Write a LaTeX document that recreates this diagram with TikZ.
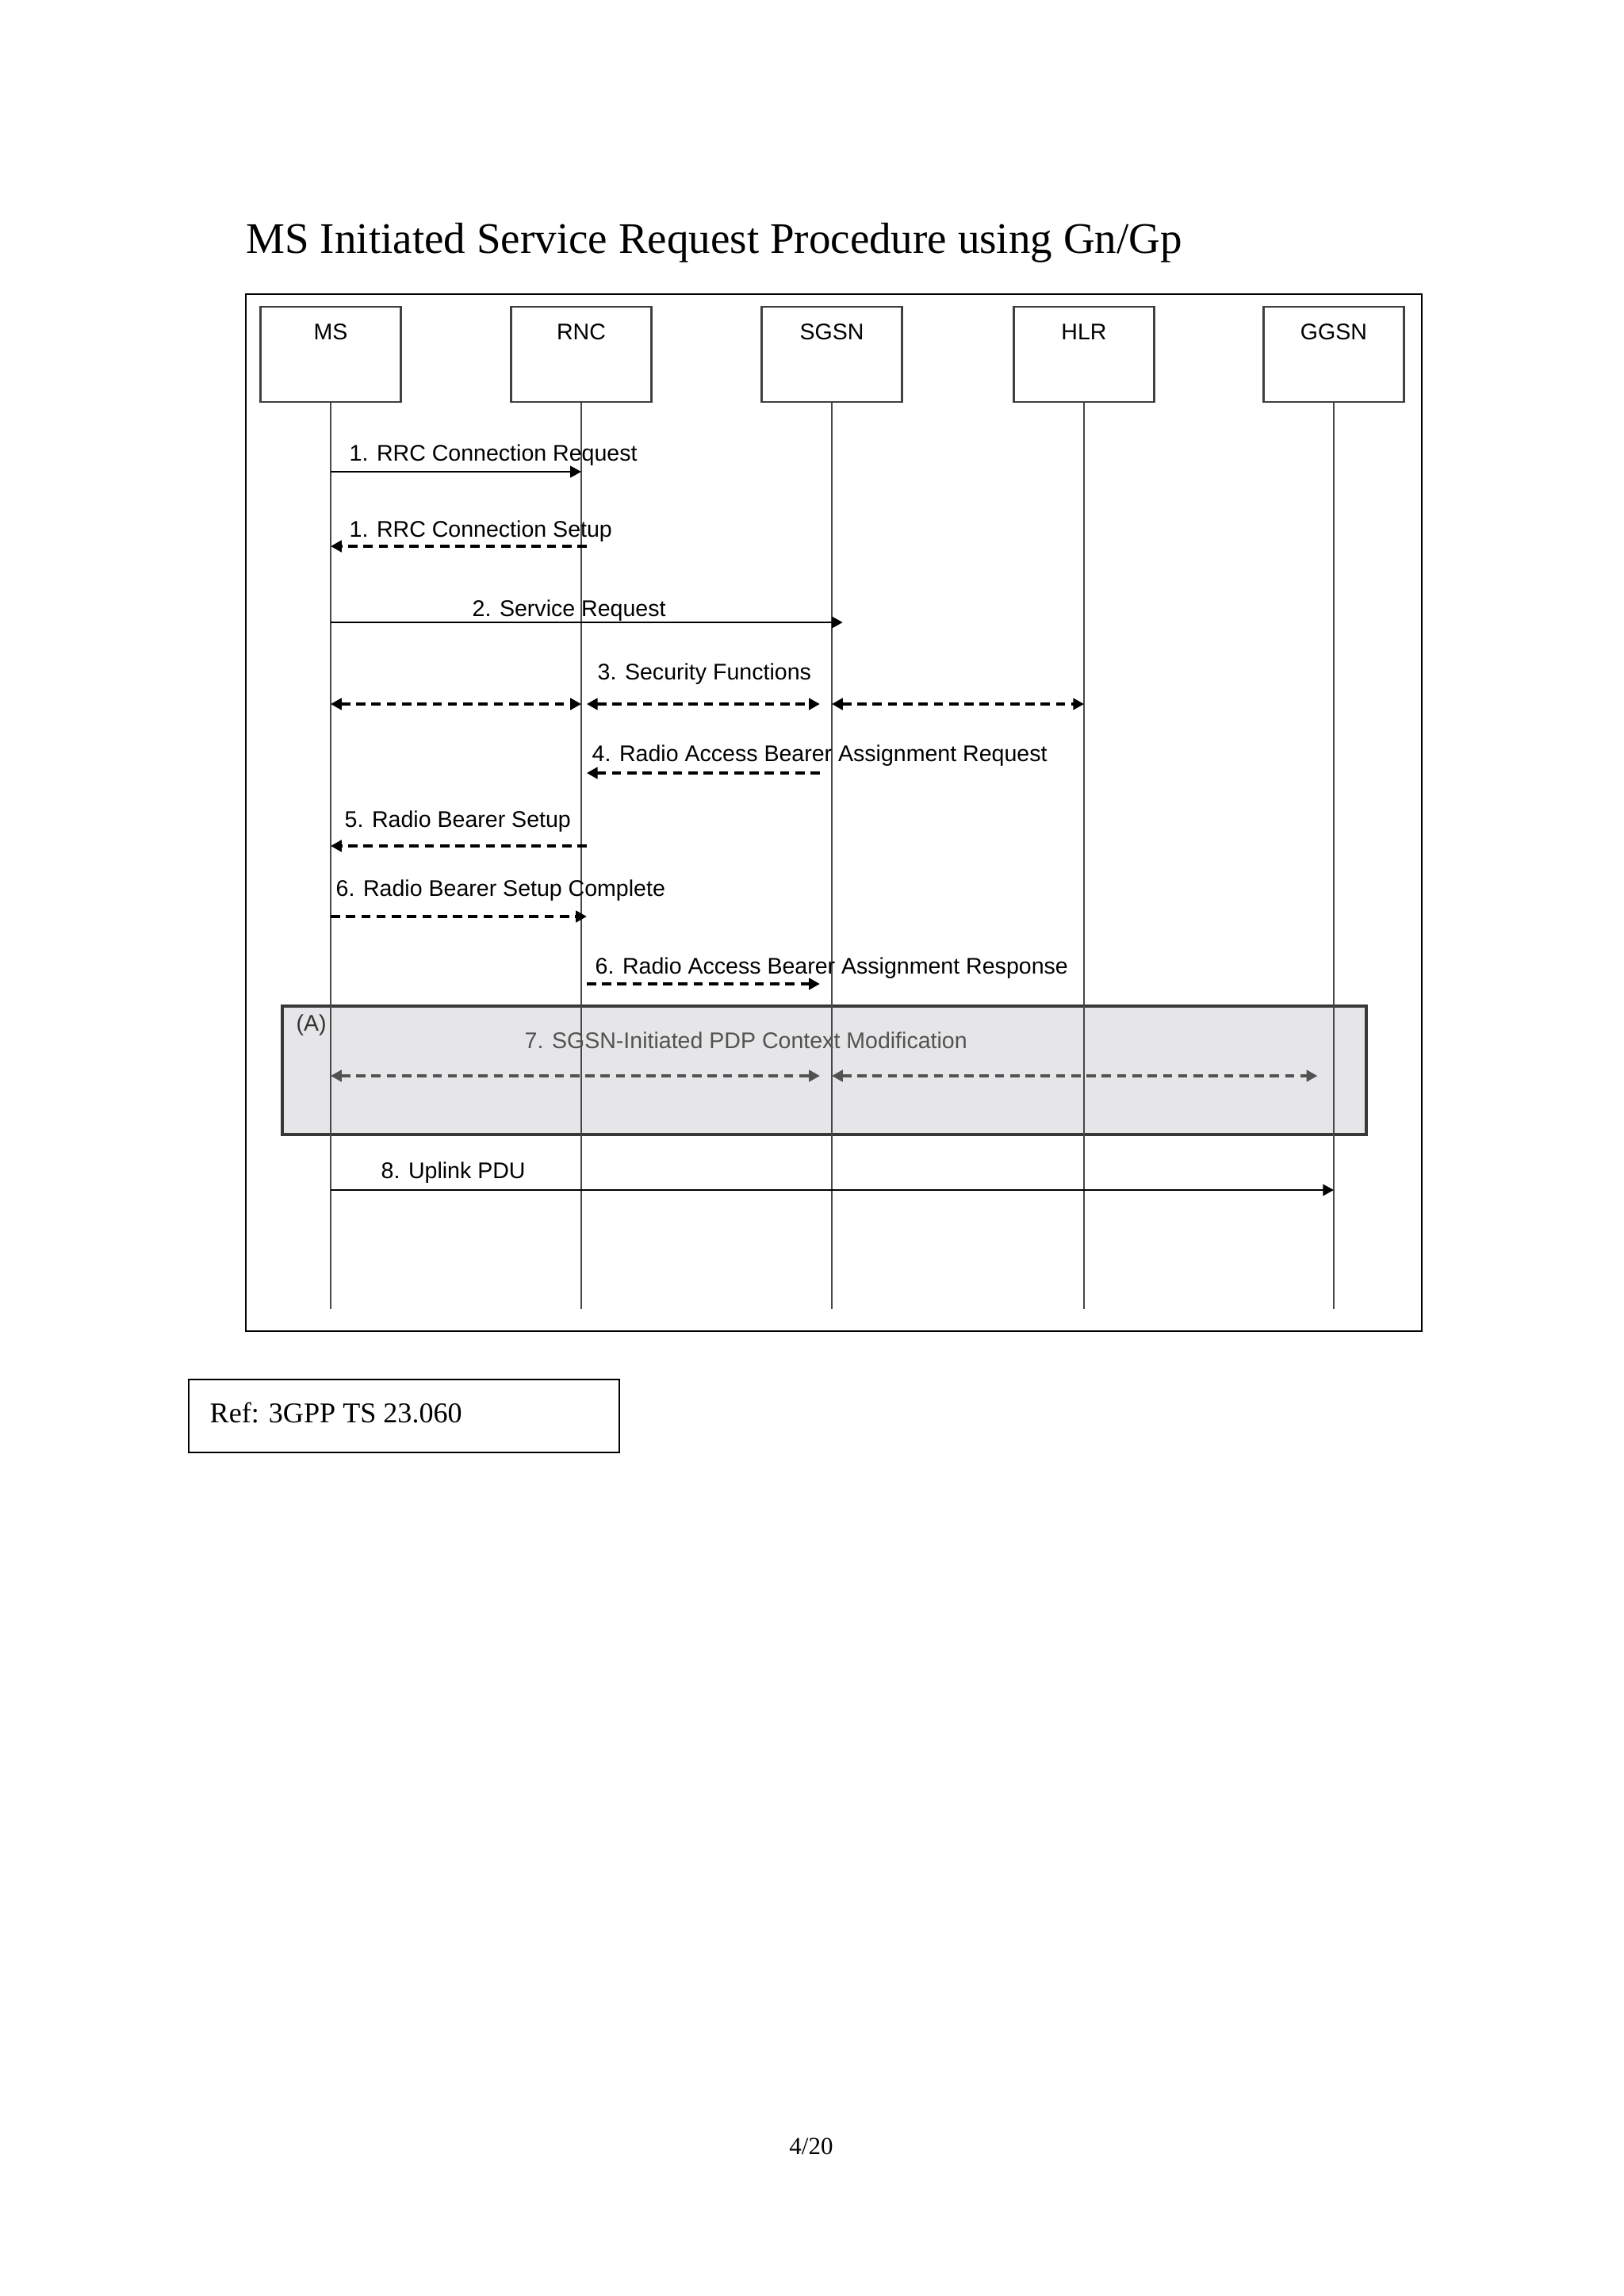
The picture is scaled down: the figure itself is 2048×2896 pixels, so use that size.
\documentclass[tikz,border=0pt]{standalone}
\usepackage{fontspec}
\setmainfont{Liberation Serif}
\newfontfamily\diafont{Liberation Sans}
\usetikzlibrary{arrows.meta}
\definecolor{boxgrey}{RGB}{230,230,232}

\begin{document}
\begin{tikzpicture}
    [x=0.2907pt, y=-0.2907pt,
     every node/.style={font=\diafont\fontsize{8.3}{10}\selectfont, inner sep=0pt},
     actor/.style={draw=black!75, line width=0.65pt, anchor=north, minimum width=51.5pt,
                   minimum height=34.9pt, inner ysep=5.5pt, text height=6.5pt, text depth=17.4pt},
     life/.style={draw=black!72, line width=0.55pt},
     msg/.style={line width=0.7pt, -{Triangle[length=4pt, width=4.2pt]}},
     reply/.style={msg, dash pattern=on 3.4pt off 2.2pt, line width=0.95pt},
     both/.style={reply, {Triangle[length=4pt, width=4.2pt]}-{Triangle[length=4pt, width=4.2pt]}},
     tag/.style={anchor=base west}]
    \useasboundingbox (0,0) rectangle (2048,2896);
    \node[anchor=base west, font=\fontsize{16}{19}\selectfont] (title) at (310,319)
        {MS Initiated Service Request Procedure using Gn/Gp};
    \draw[line width=0.7pt] (310,371) rectangle (1793,1679);
    \node[actor] (ms) at (417,386) {MS};
    \node[actor] (rnc) at (733,386) {RNC};
    \node[actor] (sgsn) at (1049,386) {SGSN};
    \node[actor] (hlr) at (1367,386) {HLR};
    \node[actor] (ggsn) at (1682,386) {GGSN};
    \coordinate (bot) at (0,1651);
    \foreach \m/\y in {m1/595, m2/689, m3/785, m4/888, m5/975, m6/1067, m7/1156, m8/1241, m9/1357, m10/1501}
        \coordinate (\m) at (0,\y);
    \draw[fill=boxgrey, draw=black!78, line width=0.9pt] (356,1269) rectangle (1723,1431);
    \foreach \p in {ms, rnc, sgsn, hlr, ggsn}
        \draw[life] (\p.south) -- (\p |- bot);
    \draw[msg] (ms |- m1) -- (rnc |- m1);
    \node[tag] at (440,581) {1. RRC Connection Request};
    \draw[reply, shorten <=-2pt] (rnc |- m2) -- (ms |- m2);
    \node[tag] at (440,677) {1. RRC Connection Setup};
    \draw[msg, shorten >=-4pt] (ms |- m3) -- (sgsn |- m3);
    \node[tag] at (595,777) {2. Service Request};
    \draw[both] (ms |- m4) -- (rnc |- m4);
    \draw[both, shorten <=2pt, shorten >=4.4pt] (rnc |- m4) -- (sgsn |- m4);
    \draw[both] (sgsn |- m4) -- (hlr |- m4);
    \node[tag] at (753,857) {3. Security Functions};
    \draw[reply, shorten <=4.4pt, shorten >=2pt] (sgsn |- m5) -- (rnc |- m5);
    \node[tag] at (746,960) {4. Radio Access Bearer Assignment Request};
    \draw[reply, shorten <=-2pt] (rnc |- m6) -- (ms |- m6);
    \node[tag] at (434,1043) {5. Radio Bearer Setup};
    \draw[reply, shorten >=-2pt] (ms |- m7) -- (rnc |- m7);
    \node[tag] at (423,1130) {6. Radio Bearer Setup Complete};
    \draw[reply, shorten <=2pt, shorten >=4.4pt] (rnc |- m8) -- (sgsn |- m8);
    \node[tag] at (750,1228) {6. Radio Access Bearer Assignment Response};
    \node[tag, text=black!80] at (373,1300) {(A)};
    \node[tag, text=black!68] at (661,1322) {7. SGSN-Initiated PDP Context Modification};
    \draw[both, draw=black!68, shorten >=4.4pt] (ms |- m9) -- (sgsn |- m9);
    \draw[both, draw=black!68, shorten >=6pt] (sgsn |- m9) -- (ggsn |- m9);
    \draw[msg] (ms |- m10) -- (ggsn |- m10);
    \node[tag] at (480,1486) {8. Uplink PDU};
    \draw[line width=0.6pt] (238,1740) rectangle (781,1832);
    \node[anchor=base west, font=\fontsize{10.5}{12}\selectfont] (ref) at (264,1794) {Ref: 3GPP TS 23.060};
    \node[anchor=base, font=\fontsize{9}{11}\selectfont] (page) at (1023,2717) {4/20};
\end{tikzpicture}
\end{document}
